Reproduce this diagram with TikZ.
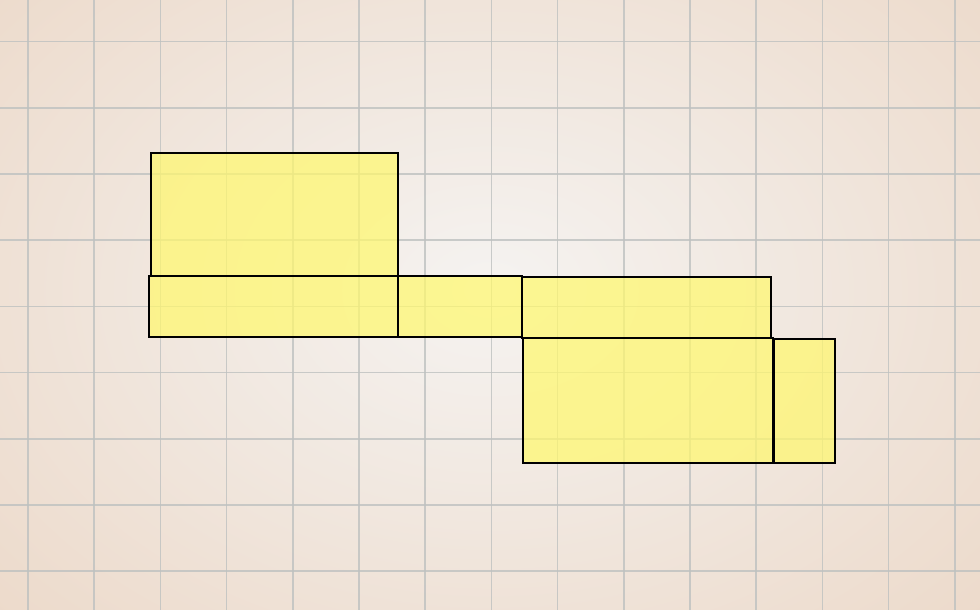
\documentclass[tikz,border=0pt]{standalone}
\usetikzlibrary{positioning}

\definecolor{paperin}{RGB}{245,243,241}
\definecolor{paperout}{RGB}{236,217,201}
\definecolor{gridline}{RGB}{190,193,192}
\definecolor{noteyellow}{RGB}{255,248,110}

\tikzset{
  note/.style={draw=black, line width=1.1pt, fill=noteyellow, fill opacity=.72,
    draw opacity=1, inner sep=0pt, outer sep=0pt},
}

\begin{document}
\begin{tikzpicture}[x=1pt,y=-1pt]

      \useasboundingbox (0,0) rectangle (980,610);

      % paper
      \begin{scope}
        \clip (0,0) rectangle (980,610);
        \fill[paperout] (0,0) rectangle (980,610);
        \shade[inner color=paperin, outer color=paperout] (490,290) ellipse (700 and 500);
      \end{scope}

      % grid
      \begin{scope}[gridline, line width=1.6pt, opacity=.8]
        \foreach \i in {0,...,14}
          \draw (28+66.2*\i,0) -- (28+66.2*\i,610);
        \foreach \j in {0,...,8}
          \draw (0,41.5+66.2*\j) -- (980,41.5+66.2*\j);
      \end{scope}

      % notes
      \begin{scope}[every node/.style={note}]
        \node[minimum width=247pt, minimum height=123pt] (big1)  at (274.5,214.5) {};
        \node[minimum width=249pt, minimum height=61pt]  (long1) at (273.5,306.5) {};
        \node[minimum width=124pt, minimum height=61pt]  (mid)   at (460,306.5)   {};
        \node[minimum width=249pt, minimum height=61pt]  (long2) at (646.5,307.5) {};
        \node[minimum width=250pt, minimum height=125pt] (big2)  at (648,400.5)   {};
        \node[minimum width=61pt,  minimum height=124pt] (tall)  at (804.5,401)   {};
      \end{scope}

    \end{tikzpicture}
\end{document}
